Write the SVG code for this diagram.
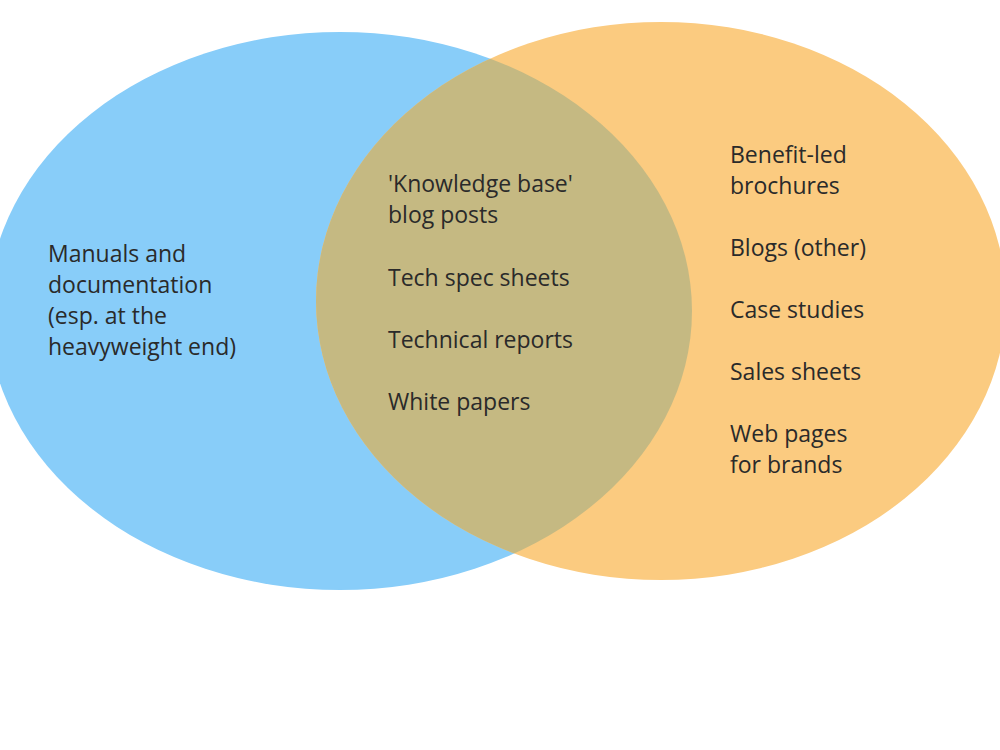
<svg xmlns="http://www.w3.org/2000/svg" width="1000" height="750" viewBox="0 0 1000 750">
<style>text{font-family:"Open Sans","Liberation Sans",sans-serif;font-size:23px;fill:#2a2a2a}</style>
<defs><clipPath id="cb"><ellipse cx="340" cy="311" rx="352" ry="279"/></clipPath></defs>
<rect width="1000" height="750" fill="#fff"/>
<g id="left-set"><ellipse cx="340" cy="311" rx="352" ry="279" fill="#88CDF9"/></g>
<g id="right-set"><ellipse cx="661" cy="301" rx="345" ry="279" fill="#FBCB80"/></g>
<g id="overlap"><ellipse cx="661" cy="301" rx="345" ry="279" fill="#C5B982" clip-path="url(#cb)"/></g>
<g id="left-text"><text x="48" y="262">Manuals and</text><text x="48" y="293">documentation</text><text x="48" y="324">(esp. at the</text><text x="48" y="355">heavyweight end)</text></g>
<g id="mid-text"><text x="388" y="192">'Knowledge base'</text><text x="388" y="223">blog posts</text><text x="388" y="286">Tech spec sheets</text><text x="388" y="348">Technical reports</text><text x="388" y="410">White papers</text></g>
<g id="right-text"><text x="730" y="163">Benefit-led</text><text x="730" y="194">brochures</text><text x="730" y="256">Blogs (other)</text><text x="730" y="318">Case studies</text><text x="730" y="380">Sales sheets</text><text x="730" y="442">Web pages</text><text x="730" y="473">for brands</text></g>
</svg>
